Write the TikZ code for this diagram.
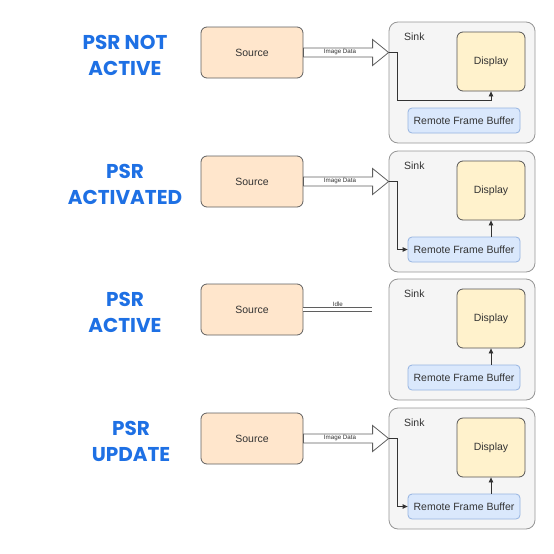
\documentclass[tikz,border=0pt]{standalone}
\usepackage{fontspec}
\setmainfont{Liberation Sans}
\newfontfamily\headfont{Poppins}
\usetikzlibrary{calc,arrows.meta}

\definecolor{headblue}{RGB}{30,112,228}
\definecolor{txtgray}{RGB}{51,51,51}
\definecolor{linegray}{RGB}{51,51,51}
\definecolor{srcfill}{RGB}{255,230,204}
\definecolor{srcline}{RGB}{95,95,95}
\definecolor{sinkfill}{RGB}{245,245,245}
\definecolor{sinkline}{RGB}{150,150,150}
\definecolor{dispfill}{RGB}{255,242,204}
\definecolor{displine}{RGB}{85,85,85}
\definecolor{rfbfill}{RGB}{218,232,252}
\definecolor{rfbline}{RGB}{150,180,225}

\tikzstyle{title}=[font=\headfont\bfseries\fontsize{20}{26}\selectfont,
                   text=headblue, align=center]
\tikzstyle{lbl}=[font=\fontsize{10.5}{12}\selectfont, text=txtgray]
\tikzstyle{tinylbl}=[font=\fontsize{6.2}{7}\selectfont, text=txtgray, inner sep=1pt]
\tikzstyle{srcbox}=[lbl, draw=srcline, fill=srcfill, line width=0.8pt,
                    rounded corners=6pt, minimum width=102pt, minimum height=51pt]
\tikzstyle{sinkbox}=[draw=sinkline, fill=sinkfill, line width=0.8pt,
                     rounded corners=9pt, minimum width=146pt, minimum height=121pt]
\tikzstyle{dispbox}=[lbl, draw=displine, fill=dispfill, line width=0.8pt,
                     rounded corners=6pt, minimum width=68pt, minimum height=59pt]
\tikzstyle{rfbbox}=[lbl, draw=rfbline, fill=rfbfill, line width=0.8pt,
                    rounded corners=4pt, minimum width=112pt, minimum height=25pt]
\tikzstyle{link}=[draw=linegray, line width=0.8pt,
                  -{Triangle[length=5pt,width=4.5pt]}]
\tikzstyle{fatarrow}=[draw=srcline, fill=white, line width=0.8pt, line join=miter]
\tikzstyle{idle}=[draw=srcline, double=white, double distance=3pt, line width=0.7pt]

\newcommand\imgarrow[2]{%
  \draw[fatarrow] ($(#1.east)+(0,-4.5)$) -- ($(#2.west|-#1.east)+(-16,-4.5)$)
    -- ++(0,-8.5) -- (#2.west|-#1.east) -- ++(-16,13) -- ++(0,-8.5)
    -- ($(#1.east)+(0,4.5)$) -- cycle;
  \node[tinylbl] (img#1) at ($(#1.east)!0.5!(#2.west|-#1.east)+(-6,0)$) {Image Data};}

\begin{document}
\begin{tikzpicture}[x=1pt,y=-1pt]
  \useasboundingbox (0,0) rectangle (554,554);

  \foreach \i/\dy/\tx/\ttl in {1/0/125/{PSR NOT\\ACTIVE},2/129/125/{PSR\\ACTIVATED},
                               3/257/125/{PSR\\ACTIVE},4/386/131/{PSR\\UPDATE}} {
    \node[title] (title\i) at (\tx,55+\dy) {\ttl};
    \node[srcbox] (src\i) at (252,52.5+\dy) {Source};
    \node[sinkbox] (sink\i) at (462,82.5+\dy) {};
    \node[lbl, anchor=west] (sinklbl\i) at ($(sink\i.north west)+(12,15)$) {Sink};
    \node[dispbox] (disp\i) at (491,61.5+\dy) {Display};
    \node[rfbbox] (rfb\i) at (464,120.5+\dy) {Remote Frame Buffer};
  }

  % not active
  \imgarrow{src1}{sink1}
  \draw[link] (sink1.west|-src1.east) -- ++(9,0) |- ($(disp1.south)+(0,9)$) -- (disp1.south);

  % activated
  \imgarrow{src2}{sink2}
  \draw[link] (sink2.west|-src2.east) -- ++(9,0) |- (rfb2.west);
  \draw[link] (rfb2.north-|disp2.south) -- (disp2.south);

  % active
  \coordinate (idleend) at ($(src3.east)+(69,0)$);
  \draw[idle] (src3.east) -- (idleend) node[midway, above=2pt, tinylbl] (idletxt) {Idle};
  \draw[link] (rfb3.north-|disp3.south) -- (disp3.south);

  % update
  \imgarrow{src4}{sink4}
  \draw[link] (sink4.west|-src4.east) -- ++(9,0) |- (rfb4.west);
  \draw[link] (rfb4.north-|disp4.south) -- (disp4.south);
\end{tikzpicture}
\end{document}
